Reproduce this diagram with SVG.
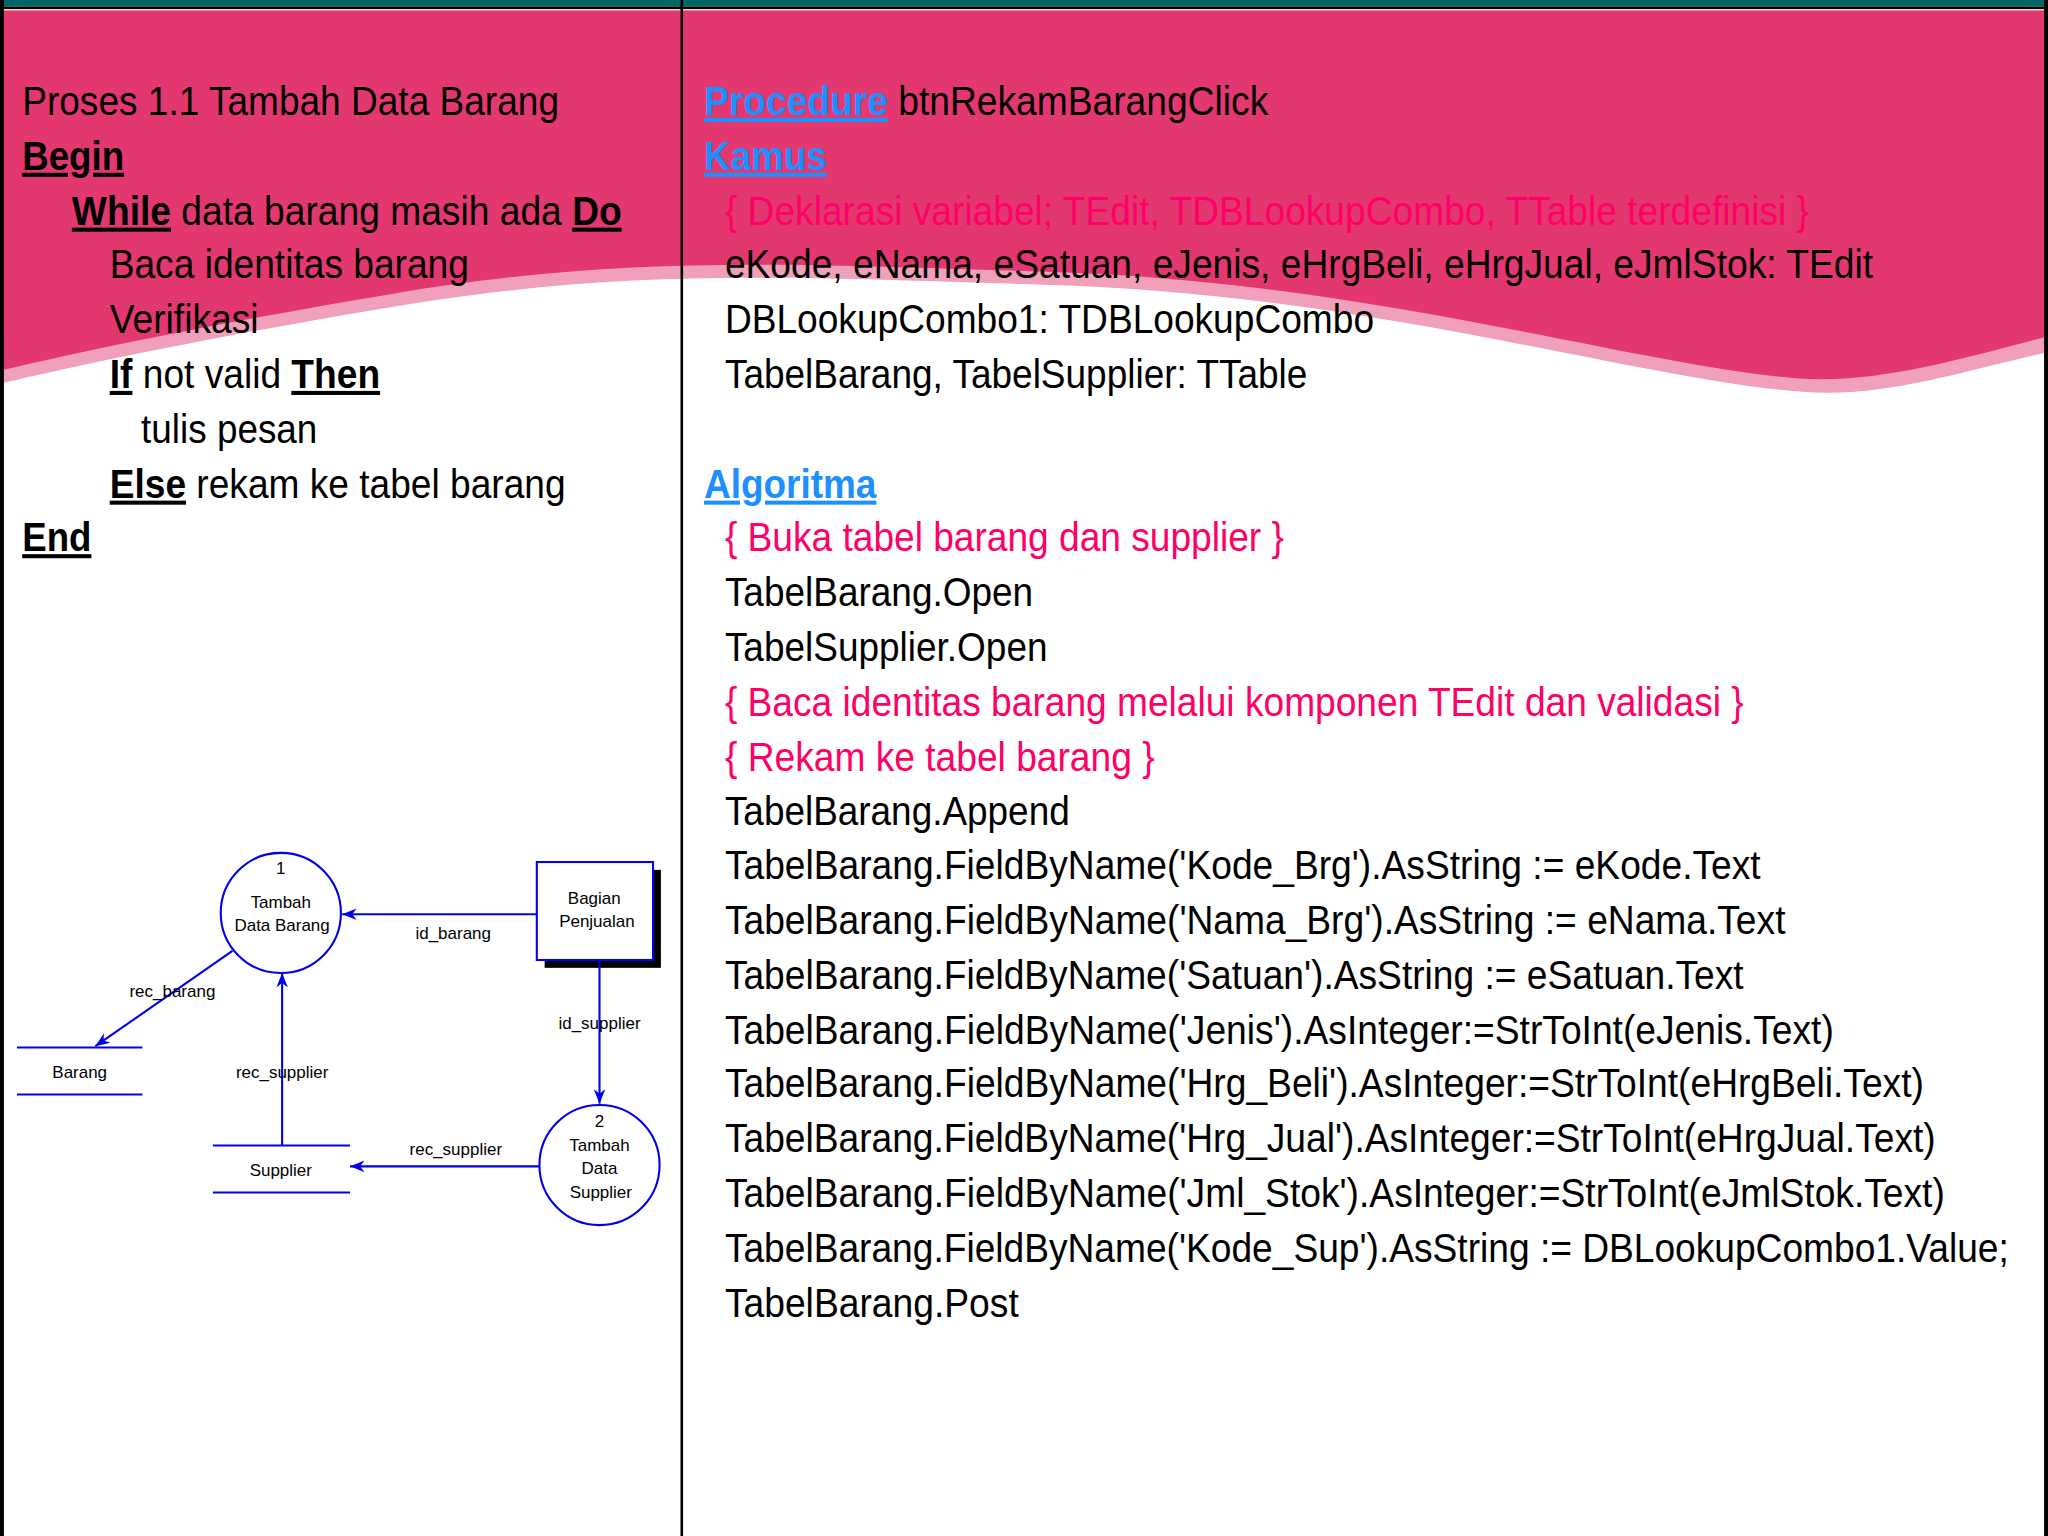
<svg xmlns="http://www.w3.org/2000/svg" width="2048" height="1536" viewBox="0 0 2048 1536">
<defs>
<style>
.t{font-family:"Liberation Sans",Arial,sans-serif;font-size:31px;fill:#000}
.b{font-weight:bold;text-decoration:underline}
.blue{fill:#1e8fff;font-weight:bold;text-decoration:underline}
.red{fill:#ff0066}
.d{font-family:"Liberation Sans",Arial,sans-serif;font-size:13px;fill:#000;text-anchor:middle}
.ln{stroke:#0000ee;stroke-width:1.6;fill:none}
</style>
<marker id="ah" viewBox="0 0 10 10" refX="10" refY="5" markerWidth="11" markerHeight="11" markerUnits="userSpaceOnUse" orient="auto"><path d="M0,1 L10,5 L0,9 L3,5 Z" fill="#0000ee"/></marker>
</defs>
<g transform="scale(1.30612)">
<rect x="0" y="0" width="1568" height="1176" fill="#fff"/>
<path d="M3,8 H1566 V270 C1500,285 1440,305 1380,300 C1250,290 1050,225 800,218 C600,212 480,205 300,235 C180,255 80,275 3,293 Z" fill="#f0a0b8"/>
<path d="M3,8 H1566 V258 C1500,275 1440,293 1380,290 C1250,280 1050,215 800,208 C600,202 480,195 300,225 C180,245 80,265 3,283 Z" fill="#e3386f"/>
<rect x="0" y="0" width="1568" height="5" fill="#006666"/>
<rect x="0" y="5" width="1568" height="2" fill="#000"/>
<rect x="0" y="0" width="3" height="1176" fill="#000"/>
<rect x="521" y="0" width="2" height="1176" fill="#000"/>
<rect x="1565" y="0" width="3" height="1176" fill="#000"/>

<g id="left-text">
<text class="t" x="17" y="88" textLength="411" lengthAdjust="spacingAndGlyphs">Proses 1.1 Tambah Data Barang</text>
<text class="t b" x="17" y="130" textLength="78" lengthAdjust="spacingAndGlyphs">Begin</text>
<text class="t" x="55" y="172" textLength="421" lengthAdjust="spacingAndGlyphs"><tspan class="b">While</tspan> data barang masih ada <tspan class="b">Do</tspan></text>
<text class="t" x="84" y="213" textLength="275" lengthAdjust="spacingAndGlyphs">Baca identitas barang</text>
<text class="t" x="84" y="255" textLength="114" lengthAdjust="spacingAndGlyphs">Verifikasi</text>
<text class="t" x="84" y="297" textLength="207" lengthAdjust="spacingAndGlyphs"><tspan class="b">If</tspan> not valid <tspan class="b">Then</tspan></text>
<text class="t" x="108" y="339" textLength="135" lengthAdjust="spacingAndGlyphs">tulis pesan</text>
<text class="t" x="84" y="381" textLength="349" lengthAdjust="spacingAndGlyphs"><tspan class="b">Else</tspan> rekam ke tabel barang</text>
<text class="t b" x="17" y="422" textLength="53" lengthAdjust="spacingAndGlyphs">End</text>
</g>

<g id="right-text">
<text class="t" x="539" y="88" textLength="432" lengthAdjust="spacingAndGlyphs"><tspan class="blue">Procedure</tspan> btnRekamBarangClick</text>
<text class="t blue" x="539" y="130" textLength="94" lengthAdjust="spacingAndGlyphs">Kamus</text>
<text class="t red" x="555" y="172" textLength="830" lengthAdjust="spacingAndGlyphs">{ Deklarasi variabel; TEdit, TDBLookupCombo, TTable terdefinisi }</text>
<text class="t" x="555" y="213" textLength="879" lengthAdjust="spacingAndGlyphs">eKode, eNama, eSatuan, eJenis, eHrgBeli, eHrgJual, eJmlStok: TEdit</text>
<text class="t" x="555" y="255" textLength="497" lengthAdjust="spacingAndGlyphs">DBLookupCombo1: TDBLookupCombo</text>
<text class="t" x="555" y="297" textLength="446" lengthAdjust="spacingAndGlyphs">TabelBarang, TabelSupplier: TTable</text>
<text class="t blue" x="539" y="381" textLength="132" lengthAdjust="spacingAndGlyphs">Algoritma</text>
<text class="t red" x="555" y="422" textLength="428" lengthAdjust="spacingAndGlyphs">{ Buka tabel barang dan supplier }</text>
<text class="t" x="555" y="464" textLength="236" lengthAdjust="spacingAndGlyphs">TabelBarang.Open</text>
<text class="t" x="555" y="506" textLength="247" lengthAdjust="spacingAndGlyphs">TabelSupplier.Open</text>
<text class="t red" x="555" y="548" textLength="780" lengthAdjust="spacingAndGlyphs">{ Baca identitas barang melalui komponen TEdit dan validasi }</text>
<text class="t red" x="555" y="590" textLength="329" lengthAdjust="spacingAndGlyphs">{ Rekam ke tabel barang }</text>
<text class="t" x="555" y="632" textLength="264" lengthAdjust="spacingAndGlyphs">TabelBarang.Append</text>
<text class="t" x="555" y="673" textLength="793" lengthAdjust="spacingAndGlyphs">TabelBarang.FieldByName('Kode_Brg').AsString := eKode.Text</text>
<text class="t" x="555" y="715" textLength="812" lengthAdjust="spacingAndGlyphs">TabelBarang.FieldByName('Nama_Brg').AsString := eNama.Text</text>
<text class="t" x="555" y="757" textLength="780" lengthAdjust="spacingAndGlyphs">TabelBarang.FieldByName('Satuan').AsString := eSatuan.Text</text>
<text class="t" x="555" y="799" textLength="849" lengthAdjust="spacingAndGlyphs">TabelBarang.FieldByName('Jenis').AsInteger:=StrToInt(eJenis.Text)</text>
<text class="t" x="555" y="840" textLength="918" lengthAdjust="spacingAndGlyphs">TabelBarang.FieldByName('Hrg_Beli').AsInteger:=StrToInt(eHrgBeli.Text)</text>
<text class="t" x="555" y="882" textLength="927" lengthAdjust="spacingAndGlyphs">TabelBarang.FieldByName('Hrg_Jual').AsInteger:=StrToInt(eHrgJual.Text)</text>
<text class="t" x="555" y="924" textLength="934" lengthAdjust="spacingAndGlyphs">TabelBarang.FieldByName('Jml_Stok').AsInteger:=StrToInt(eJmlStok.Text)</text>
<text class="t" x="555" y="966" textLength="983" lengthAdjust="spacingAndGlyphs">TabelBarang.FieldByName('Kode_Sup').AsString := DBLookupCombo1.Value;</text>
<text class="t" x="555" y="1008" textLength="225" lengthAdjust="spacingAndGlyphs">TabelBarang.Post</text>
</g>

<g id="p1">
<circle cx="215" cy="699" r="46" class="ln"/>
<text class="d" x="215" y="669">1</text>
<text class="d" x="215" y="695">Tambah</text>
<text class="d" x="216" y="713">Data Barang</text>
</g>
<g id="bagian">
<rect x="417" y="666" width="89" height="75" fill="#000"/>
<rect x="411" y="660" width="89" height="75" class="ln" style="fill:#fff"/>
<text class="d" x="455" y="692">Bagian</text>
<text class="d" x="457" y="710">Penjualan</text>
</g>
<g id="p2">
<circle cx="459" cy="892" r="46" class="ln"/>
<text class="d" x="459" y="863">2</text>
<text class="d" x="459" y="881">Tambah</text>
<text class="d" x="459" y="899">Data</text>
<text class="d" x="460" y="917">Supplier</text>
</g>
<g id="supplier">
<line x1="163" y1="877" x2="268" y2="877" class="ln"/>
<line x1="163" y1="913" x2="268" y2="913" class="ln"/>
<text class="d" x="215" y="900">Supplier</text>
</g>
<g id="barang">
<line x1="13" y1="802" x2="109" y2="802" class="ln"/>
<line x1="13" y1="838" x2="109" y2="838" class="ln"/>
<text class="d" x="61" y="825">Barang</text>
</g>
<g id="connectors">
<line x1="411" y1="700" x2="262" y2="700" class="ln" marker-end="url(#ah)"/>
<text class="d" x="347" y="719">id_barang</text>
<line x1="459" y1="735" x2="459" y2="845" class="ln" marker-end="url(#ah)"/>
<text class="d" x="459" y="788">id_supplier</text>
<line x1="413" y1="893" x2="268" y2="893" class="ln" marker-end="url(#ah)"/>
<text class="d" x="349" y="884">rec_supplier</text>
<line x1="216" y1="877" x2="216" y2="745" class="ln" marker-end="url(#ah)"/>
<text class="d" x="216" y="825">rec_supplier</text>
<line x1="178" y1="728" x2="73" y2="801" class="ln" marker-end="url(#ah)"/>
<text class="d" x="132" y="763">rec_barang</text>
</g>
</g>
</svg>
